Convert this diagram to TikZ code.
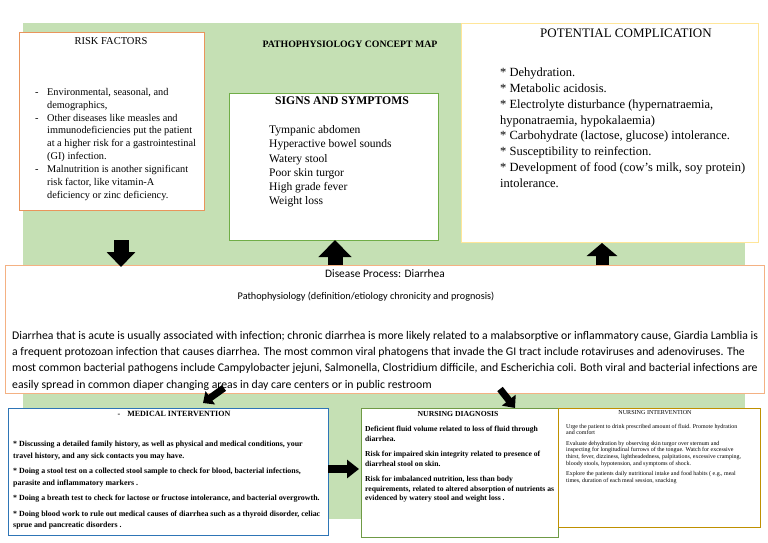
\documentclass[tikz,border=0pt]{standalone}
\usepackage{fontspec}
\setmainfont{Liberation Serif}
\newfontfamily\calfont{Carlito}
\usetikzlibrary{arrows.meta}
\definecolor{bggreen}{HTML}{C5E0B4}
\definecolor{rfborder}{HTML}{E9955C}
\definecolor{dpborder}{HTML}{F4B183}
\definecolor{ssborder}{HTML}{70AD47}
\definecolor{pcborder}{HTML}{FFE699}
\definecolor{miborder}{HTML}{2E75B6}
\definecolor{ndborder}{HTML}{6F9A45}
\definecolor{niborder}{HTML}{BF9000}
\newcommand{\fsz}[2]{\fontsize{#1}{#2}\selectfont}
\begin{document}
\begin{tikzpicture}[x=1pt,y=-1pt,
  box/.style={draw, line width=0.8pt, fill=white, inner sep=0pt, anchor=north west},
  txt/.style={inner sep=0pt, align=left, anchor=north west},
  ttl/.style={inner sep=0pt, anchor=center},
  barrow/.style={line width=#1, draw=black, line cap=butt}
]
\useasboundingbox (0,0) rectangle (768,543);
\fill[white] (0,0) rectangle (768,543);
% green background
\fill[bggreen] (23,23) rectangle (745,519);

% Risk factors
\node[box, draw=rfborder, minimum width=185pt, minimum height=178pt] (rf) at (19,32) {};
\node[ttl, font=\fsz{10.5}{12}] (rft) at (111,41) {RISK FACTORS};
\node[txt, font=\fsz{10.3}{12.9}] (rfl) at (35,86) {\begin{tabular}{@{}p{12pt}@{}l@{}}
-& Environmental, seasonal, and\\
 & demographics,\\
-& Other diseases like measles and\\
 & immunodeficiencies put the patient\\
 & at a higher risk for a gastrointestinal\\
 & (GI) infection.\\
-& Malnutrition is another significant\\
 & risk factor, like vitamin-A\\
 & deficiency or zinc deficiency.
\end{tabular}};

% Title
\node[ttl, font=\fsz{9.8}{11}\bfseries] (title) at (350,44) {PATHOPHYSIOLOGY CONCEPT MAP};

% Signs and symptoms
\node[box, draw=ssborder, minimum width=209pt, minimum height=147pt] (ss) at (229,93) {};
\node[ttl, font=\fsz{11.7}{13}\bfseries] (sst) at (342,100.5) {SIGNS AND SYMPTOMS};
\node[txt, font=\fsz{11.55}{14.2}] (ssl) at (269,125.5) {Tympanic abdomen\\Hyperactive bowel sounds\\Watery stool\\Poor skin turgor\\High grade fever\\Weight loss};

% Potential complication
\node[box, draw=pcborder, minimum width=297pt, minimum height=219pt] (pc) at (461,23) {};
\node[ttl, font=\fsz{13}{15}] (pct) at (626,33) {POTENTIAL COMPLICATION};
\node[txt, font=\fsz{12.5}{15.9}] (pcl) at (500,67.5) {* Dehydration.\\
* Metabolic acidosis.\\
* Electrolyte disturbance (hypernatraemia,\\
hyponatraemia, hypokalaemia)\\
* Carbohydrate (lactose, glucose) intolerance.\\
* Susceptibility to reinfection.\\
* Development of food (cow's milk, soy protein)\\
intolerance.};

% Disease process
\node[box, draw=dpborder, minimum width=759pt, minimum height=128pt] (dp) at (5,265) {};
\node[ttl, font=\calfont\fsz{11.4}{13}] (dpt) at (385,274) {Disease Process: Diarrhea};
\node[ttl, font=\calfont\fsz{10.2}{12}] (dps) at (366,297) {Pathophysiology (definition/etiology chronicity and prognosis)};
\node[txt, font=\calfont\fsz{11.75}{16.3}] (dpl) at (12,331) {Diarrhea that is acute is usually associated with infection; chronic diarrhea is more likely related to a malabsorptive or inflammatory cause, Giardia Lamblia is\\
a frequent protozoan infection that causes diarrhea. The most common viral phatogens that invade the GI tract include rotaviruses and adenoviruses. The\\
most common bacterial pathogens include Campylobacter jejuni, Salmonella, Clostridium difficile, and Escherichia coli. Both viral and bacterial infections are\\
easily spread in common diaper changing areas in day care centers or in public restroom};

% Medical intervention
\node[box, draw=miborder, minimum width=320pt, minimum height=127pt] (mi) at (8,408) {};
\node[ttl, font=\fsz{8}{9}\bfseries] (mit) at (174,414) {-\hspace{7pt}MEDICAL INTERVENTION};
\node[txt, font=\fsz{7.9}{11.5}\bfseries] (mil) at (13,441) {* Discussing a detailed family history, as well as physical and medical conditions, your\\
travel history, and any sick contacts you may have.\\[4pt]
* Doing a stool test on a collected stool sample to check for blood, bacterial infections,\\
parasite and inflammatory markers .\\[4pt]
* Doing a breath test to check for lactose or fructose intolerance, and bacterial overgrowth.\\[4pt]
* Doing blood work to rule out medical causes of diarrhea such as a thyroid disorder, celiac\\
sprue and pancreatic disorders .};

% Nursing diagnosis
\node[box, draw=ndborder, minimum width=197pt, minimum height=129pt] (nd) at (361,408) {};
\node[ttl, font=\fsz{7.7}{9}\bfseries] (ndt) at (458,414) {NURSING DIAGNOSIS};
\node[txt, font=\fsz{7.65}{9.5}\bfseries] (ndl) at (365,426.3) {Deficient fluid volume related to loss of fluid through\\
diarrhea.\\[6pt]
Risk for impaired skin integrity related to presence of\\
diarrheal stool on skin.\\[6pt]
Risk for imbalanced nutrition, less than body\\
requirements, related to altered absorption of nutrients as\\
evidenced by watery stool and weight loss .};

% Nursing intervention
\node[box, draw=niborder, minimum width=202pt, minimum height=119pt] (ni) at (558,408) {};
\node[ttl, font=\fsz{6.1}{7}] (nit) at (655,413) {NURSING INTERVENTION};
\node[txt, font=\fsz{5.95}{6.8}] (nil) at (566,423.8) {Urge the patient to drink prescribed amount of fluid. Promote hydration\\
and comfort\\[3.3pt]
Evaluate dehydration by observing skin turgor over sternum and\\
inspecting for longitudinal furrows of the tongue. Watch for excessive\\
thirst, fever, dizziness, lightheadedness, palpitations, excessive cramping,\\
bloody stools, hypotension, and symptoms of shock.\\[3.3pt]
Explore the patients daily nutritional intake and food habits ( e.g., meal\\
times, duration of each meal session, snacking};

% Arrows
\coordinate (a1s) at (121,240); \coordinate (a1e) at (121,267);
\coordinate (a2s) at (335,265); \coordinate (a2e) at (335,240);
\coordinate (a3s) at (602,265); \coordinate (a3e) at (602,243);
\coordinate (a4s) at (224,388); \coordinate (a4e) at (203,403);
\coordinate (a5s) at (500,389); \coordinate (a5e) at (515,408);
\coordinate (a6s) at (328,469); \coordinate (a6e) at (359,469);
\draw[barrow=15pt, -{Triangle[width=28pt,length=15pt]}] (a1s) -- (a1e);
\draw[barrow=15pt, -{Triangle[width=32pt,length=17pt]}] (a2s) -- (a2e);
\draw[barrow=13pt, -{Triangle[width=30pt,length=13pt]}] (a3s) -- (a3e);
\draw[barrow=7pt, -{Triangle[width=16pt,length=9pt]}] (a4s) -- (a4e);
\draw[barrow=7pt, -{Triangle[width=17pt,length=10pt]}] (a5s) -- (a5e);
\draw[barrow=8pt, -{Triangle[width=18pt,length=12pt]}] (a6s) -- (a6e);
\end{tikzpicture}
\end{document}
